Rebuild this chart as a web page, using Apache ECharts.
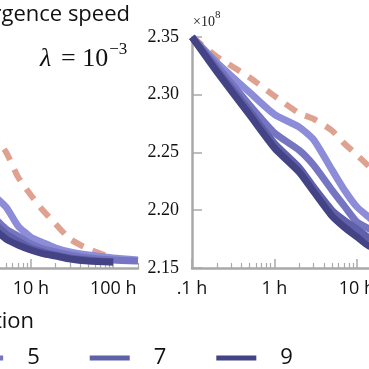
<!DOCTYPE html>
<html>
<head>
<meta charset="utf-8">
<script src="https://cdn.jsdelivr.net/npm/echarts@6/dist/echarts.min.js"></script>
<style>
html,body{margin:0;padding:0;overflow:hidden;width:369px;height:369px;background:#fff;}
#c{position:absolute;left:-300px;top:0;width:970px;height:369px;}
</style>
</head>
<body>
<div id="c"></div>
<script>
// ---- data ----
const hours = [0.1, 0.2, 0.5, 1, 2, 3, 5, 7, 10, 14, 20, 30, 50, 100, 200];
const seriesNames = ['1', '3', '5', '7', '9'];
const majorTicks = [0.1, 1, 10, 100];
const minorTicks = [0.2,0.3,0.4,0.5,0.6,0.7,0.8,0.9,2,3,4,5,6,7,8,9,20,30,40,50,60,70,80,90,200];
const yTicks = [2.15, 2.20, 2.25, 2.30, 2.35];

// left panel
const left1 = [2.350, 2.345, 2.333, 2.315, 2.290, 2.272, 2.2504, 2.2288, 2.2132, 2.200, 2.1881, 2.1751, 2.1665, 2.1587, null];
const left3 = [2.350, 2.330, 2.300, 2.270, 2.240, 2.218, 2.2028, 2.1864, 2.1768, 2.1720, 2.1673, 2.1639, 2.1613, 2.1587, 2.1569];
const left5 = [2.350, 2.320, 2.280, 2.250, 2.220, 2.200, 2.1838, 2.1777, 2.1708, 2.1665, 2.1639, 2.1613, 2.1587, 2.1569, 2.1560];
const left7 = [2.350, 2.318, 2.275, 2.243, 2.212, 2.195, 2.1794, 2.1734, 2.1673, 2.1640, 2.1613, 2.1587, 2.1569, 2.1552, null];
const left9 = [2.350, 2.316, 2.270, 2.237, 2.205, 2.189, 2.1751, 2.1699, 2.1656, 2.1625, 2.1604, 2.1578, 2.1561, 2.1552, null];

// right panel
const right1 = [2.350, 2.333, 2.315, 2.299, 2.284, 2.279, 2.269, 2.258, 2.248, 2.238, 2.226, 2.210, 2.192, 2.172, 2.162];
const right3 = [2.350, 2.328, 2.302, 2.283, 2.272, 2.261, 2.235, 2.218, 2.203, 2.194, 2.185, 2.178, 2.172, 2.166, 2.162];
const right5 = [2.350, 2.325, 2.291, 2.267, 2.252, 2.239, 2.2175, 2.204, 2.190, 2.184, 2.178, 2.173, 2.169, 2.164, 2.160];
const right7 = [2.350, 2.322, 2.286, 2.258, 2.237, 2.220, 2.200, 2.1915, 2.184, 2.176, 2.171, 2.167, 2.164, 2.160, 2.158];
const right9 = [2.350, 2.320, 2.2825, 2.254, 2.233, 2.216, 2.195, 2.1855, 2.177, 2.169, 2.165, 2.162, 2.160, 2.157, 2.156];

const colors = ['#dfa291', '#8c8cd8', '#7575c2', '#6060aa', '#434386'];
const leftData = [left1, left3, left5, left7, left9];
const rightData = [right1, right3, right5, right7, right9];

function pairs(arr) {
  const out = [];
  arr.forEach((v, i) => { if (v !== null) out.push([hours[i], v]); });
  return out;
}
function hourLabel(v) {
  if (Math.abs(v - 0.1) < 1e-9) return '.1 h';
  return Math.round(v) + ' h';
}

const axisGrey = '#a9a9a9';
const sansFont = 'Open Sans';
const serifFont = 'Liberation Serif';

function xAxes(grid) {
  return [
    {
      type: 'log', logBase: 10, gridIndex: grid, min: 0.1, max: 200, position: 'bottom', offset: 0,
      axisLine: {show: true, lineStyle: {color: axisGrey, width: 2.5}},
      axisTick: {show: true, inside: true, length: 9, customValues: majorTicks, lineStyle: {color: axisGrey, width: 1.5}},
      minorTick: {show: false},
      axisLabel: {show: true, customValues: majorTicks, formatter: hourLabel, margin: 12,
        fontFamily: sansFont, fontSize: 18, color: '#111'},
      splitLine: {show: false}
    },
    {
      type: 'log', logBase: 10, gridIndex: grid, min: 0.1, max: 200, position: 'bottom', offset: 0,
      axisLine: {show: false},
      axisTick: {show: true, inside: true, length: 5, customValues: minorTicks, lineStyle: {color: axisGrey, width: 1.2}},
      axisLabel: {show: false},
      splitLine: {show: false}
    }
  ];
}
function yAxis(grid) {
  return {
    type: 'value', gridIndex: grid, min: 2.15, max: 2.35, interval: 0.05,
    axisLine: {show: true, lineStyle: {color: axisGrey, width: 2.5}},
    axisTick: {show: true, inside: true, length: 10, lineStyle: {color: axisGrey, width: 1.5}},
    axisLabel: {show: true, formatter: v => v.toFixed(2), margin: 13,
      fontFamily: serifFont, fontSize: 18, color: '#111'},
    splitLine: {show: false}
  };
}

const series = [];
[leftData, rightData].forEach((panel, p) => {
  panel.forEach((arr, i) => {
    series.push({
      name: seriesNames[i],
      type: 'line',
      xAxisIndex: p * 2,
      yAxisIndex: p,
      data: pairs(arr),
      symbol: 'none',
      smooth: 0.2,
      z: 2 + i,
      silent: true,
      lineStyle: {color: colors[i], width: i === 0 ? 6 : 7, type: i === 0 ? [13, 10] : 'solid', cap: 'butt'},
      itemStyle: {color: colors[i]}
    });
  });
});

const chart = echarts.init(document.getElementById('c'), null, {renderer: 'canvas'});
chart.setOption({
  animation: false,
  backgroundColor: '#fff',
  grid: [
    {left: 166, top: 37, width: 272, height: 231},
    {left: 492, top: 37, width: 272, height: 231}
  ],
  xAxis: [...xAxes(0), ...xAxes(1)],
  yAxis: [yAxis(0), yAxis(1)],
  legend: {
    data: seriesNames,
    left: 5, top: 342,
    icon: 'rect', itemWidth: 40, itemHeight: 5, itemGap: 50,
    selectedMode: false,
    textStyle: {fontFamily: sansFont, fontSize: 22, color: '#111', padding: [0, 0, 0, 19]}
  },
  graphic: [
    {type: 'text', x: 430, y: 15,
      style: {text: 'Convergence speed', font: '22px "Open Sans"', fill: '#111', align: 'right', verticalAlign: 'middle'}},
    {type: 'text', x: 340, y: 72,
      style: {
        text: '{l|λ} {n| = 10}{s|−3}',
        verticalAlign: 'bottom',
        rich: {
          l: {fontFamily: serifFont, fontStyle: 'italic', fontSize: 26, fill: '#111', verticalAlign: 'bottom'},
          n: {fontFamily: serifFont, fontSize: 26, fill: '#111', verticalAlign: 'bottom'},
          s: {fontFamily: serifFont, fontSize: 17, fill: '#111', verticalAlign: 'top', padding: [0, 0, 14, 1]}
        }
      }},
    {type: 'text', x: 493, y: 10,
      style: {
        text: '{a|×10}{b|8}',
        rich: {
          a: {fontFamily: serifFont, fontSize: 14, fill: '#222', verticalAlign: 'bottom'},
          b: {fontFamily: serifFont, fontSize: 11, fill: '#222', verticalAlign: 'top', padding: [0, 0, 8, 0]}
        }
      }},
    {type: 'text', x: 334, y: 322,
      style: {text: 'Rank of factorization', font: '22px "Open Sans"', fill: '#111', align: 'right', verticalAlign: 'middle'}}
  ],
  series: series
});
</script>
</body>
</html>
